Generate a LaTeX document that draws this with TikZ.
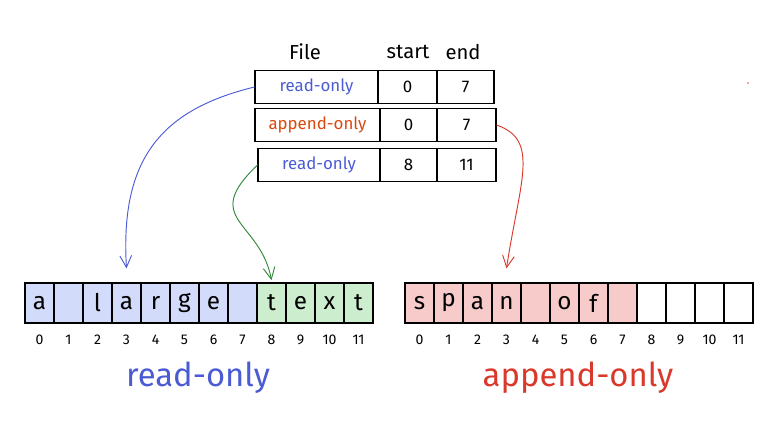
\documentclass[tikz,border=0pt]{standalone}
\usepackage{fontspec}
\setmainfont{Fira Sans}
\usetikzlibrary{positioning,arrows.meta}
\definecolor{roblue}{HTML}{4B5BD4}
\definecolor{rofill}{HTML}{D3DBFA}
\definecolor{grline}{HTML}{2F8A3A}
\definecolor{grfill}{HTML}{CDEDCF}
\definecolor{apred}{HTML}{D9382B}
\definecolor{aporange}{HTML}{D9480F}
\definecolor{apfill}{HTML}{F8CBCB}
\begin{document}
\begin{tikzpicture}[x=0.03cm,y=-0.03cm,line cap=round,
  cell/.style={draw,line width=0.9pt,minimum width=0.87cm,minimum height=1.2cm,inner sep=0pt,font=\huge},
  tcell/.style={draw,line width=0.9pt,minimum height=1.0cm,inner sep=0pt,font=\Large},
  idx/.style={font=\large},
  arr/.style={line width=0.8pt,-{Straight Barb[length=10pt,width=10pt]}}]
\useasboundingbox (0,0) rectangle (777,441);

%table
\node [font=\LARGE] at (305,52) {File};
\node [font=\LARGE] at (408,52) {start};
\node [font=\LARGE] at (463,52) {end};
\node (f1) [tcell,minimum width=3.69cm,text=roblue] at (316.5,87) {read-only};
\node (s1) [tcell,minimum width=1.77cm] at (407.5,87) {0};
\node (e1) [tcell,minimum width=1.71cm] at (465.5,87) {7};
\node (f2) [tcell,minimum width=3.75cm,text=aporange] at (317.5,125) {append-only};
\node (s2) [tcell,minimum width=1.71cm] at (408.5,125) {0};
\node (e2) [tcell,minimum width=1.77cm] at (466.5,125) {7};
\node (f3) [tcell,minimum width=3.66cm,text=roblue] at (319,165) {read-only};
\node (s3) [tcell,minimum width=1.71cm] at (408.5,165) {8};
\node (e3) [tcell,minimum width=1.77cm] at (466.5,165) {11};

%left buffer
\foreach \c [count=\i from 0] in {a,,l,a,r,g,e,,t,e,x,t}{
  \ifnum\i<8 \def\fc{rofill}\else\def\fc{grfill}\fi
  \node (l\i) [cell,fill=\fc] at (39.5+29*\i,303) {\c};
  \node [idx] at (39.5+29*\i,340) {\i};
}
\node (lro) [text=roblue,font=\fontsize{28}{32}\selectfont] at (198,378) {read-only};

%right buffer
\foreach \c [count=\i from 0] in {s,p,a,n,,o,f,,,,,}{
  \ifnum\i<8 \def\fc{apfill}\else\def\fc{white}\fi
  \node (r\i) [cell,fill=\fc] at (419.5+29*\i,303) {\c};
  \node [idx] at (419.5+29*\i,340) {\i};
}
\node (rao) [text=apred,font=\fontsize{28}{32}\selectfont] at (578,378) {append-only};

%arrows
\draw [arr,roblue] (f1.west) .. controls (160,110) and (120,160) .. ([yshift=12pt]l3.north);
\draw [arr,grline] (f3.west) .. controls (200,220) and (260,220) .. ([yshift=2pt]l8.north);
\draw [arr,apred] (e2.east) .. controls (540,140) and (520,180) .. ([yshift=12pt]r3.north);

\fill [apred!60] (748,83) circle (1.2);
\end{tikzpicture}
\end{document}
